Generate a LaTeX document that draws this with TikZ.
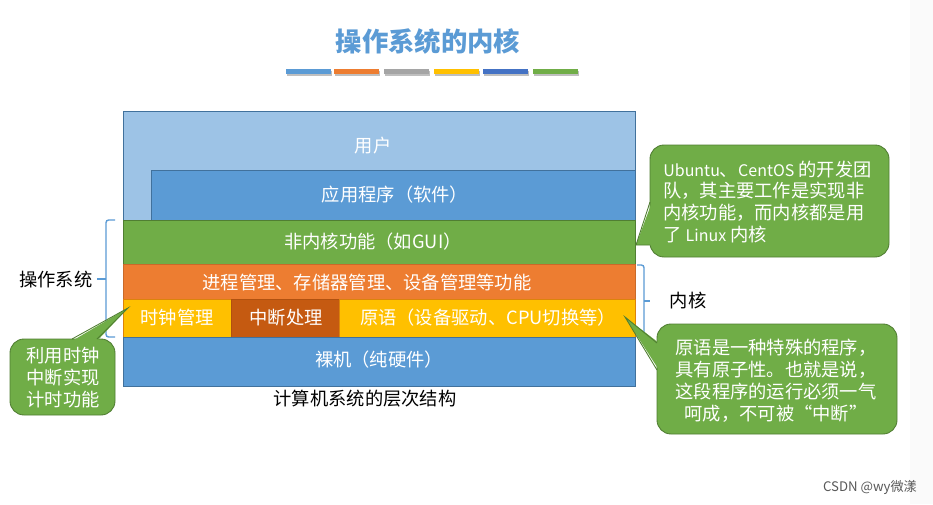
\documentclass[tikz,border=0pt]{standalone}
\usepackage{fontspec}
\setmainfont{Noto Sans CJK SC}
\definecolor{kblue}{HTML}{5B9BD5}
\definecolor{klight}{HTML}{9DC3E6}
\definecolor{kgreen}{HTML}{70AD47}
\definecolor{korange}{HTML}{ED7D31}
\definecolor{kyellow}{HTML}{FFC000}
\definecolor{kbrown}{HTML}{C55A11}
\definecolor{kgray}{HTML}{A5A5A5}
\definecolor{kindigo}{HTML}{4472C4}
\definecolor{kedge}{HTML}{41719C}
\definecolor{kgreenedge}{HTML}{507E32}
\newcommand{\latinpart}[1]{{\fontsize{9.1pt}{12.5pt}\selectfont #1}}
\tikzset{
  bodytext/.style={font=\fontsize{10.4pt}{12.5pt}\selectfont, inner sep=0pt},
  layerlabel/.style={bodytext, text=white},
  blacklabel/.style={bodytext, text=black},
  calloutbox/.style={draw=kgreenedge, fill=kgreen, line width=0.5pt, rounded corners=0.28cm},
  callouttail/.style={draw=kgreenedge, line width=0.5pt},
  callouttext/.style={bodytext, text=white},
  bracket/.style={draw=kblue, line width=0.8pt, rounded corners=1.5pt},
}
\begin{document}
\begin{tikzpicture}[x=0.02cm, y=-0.02cm]
  \useasboundingbox (0,0) rectangle (933,504);
  \fill[white] (0,0) rectangle (933,504);
  \fill[black!2] (910,0) rectangle (933,504);

  % Title and colour bars
  \node[font=\fontsize{15pt}{18pt}\selectfont\bfseries, text=kblue, inner sep=0pt] (title) at (428,41) {操作系统的内核};
  \foreach \xa/\col in {286/kblue,334/korange,384/kgray,434/kyellow,483/kindigo,533/kgreen}{
    \fill[black!25] (\xa+0.5,70.5) rectangle (\xa+45.5,75.5);
    \fill[\col] (\xa,69) rectangle (\xa+45,74);
  }

  % Layers
  \foreach \xa/\ya/\xb/\yb/\col/\edge in {
    123/111/635/220/klight/kedge,
    151/170/635/220/kblue/kedge,
    123/220/635/264/kgreen/kgreenedge,
    123/264/635/299/korange/korange!85!black,
    123/299/231/337/kyellow/kbrown!60!kyellow,
    231/299/339/337/kbrown/kbrown!90!black,
    339/299/635/337/kyellow/kbrown!60!kyellow,
    123/337/635/386/kblue/kedge}{
    \draw[draw=\edge, fill=\col, line width=0.4pt] (\xa,\ya) rectangle (\xb,\yb);
  }

  % Layer labels
  \node[layerlabel] (user) at (373,146) {用户};
  \node[layerlabel] (app) at (395,195) {应用程序（软件）};
  \node[layerlabel] (nonkernel) at (373,242) {非内核功能（如GUI）};
  \node[layerlabel] (manage) at (367,283) {进程管理、存储器管理、设备管理等功能};
  \node[layerlabel] (clock) at (177,318) {时钟管理};
  \node[layerlabel] (interrupt) at (286,318) {中断处理};
  \node[layerlabel] (atomic) at (488,318) {原语（设备驱动、CPU切换等）};
  \node[layerlabel] (bare) at (379,360) {裸机（纯硬件）};

  % Braces
  \draw[bracket] (115,220) -- (106,220) -- (106,337) -- (115,337);
  \draw[bracket] (97,279) -- (106,279);
  \draw[bracket] (637,265) -- (644,265) -- (644,337) -- (637,337);
  \draw[bracket] (644,301) -- (650,301);

  % Outside labels
  \node[blacklabel] (os) at (56,280) {操作系统};
  \node[blacklabel] (kernel) at (688,301) {内核};
  \node[blacklabel] (caption) at (365,399) {计算机系统的层次结构};

  % Callouts
  \draw[calloutbox] (650,145) rectangle (889,257);
  \fill[kgreen] (652,202) -- (636,245) -- (652,245) -- cycle;
  \draw[callouttail] (650,202) -- (636,245) -- (650,245);
  \draw[calloutbox] (657,324) rectangle (897,434);
  \fill[kgreen] (659,343) -- (625,317) -- (659,370) -- cycle;
  \draw[callouttail] (657,343) -- (625,317) -- (657,370);
  \draw[calloutbox] (10,339) rectangle (115,415);
  \fill[kgreen] (72,341) -- (128,308) -- (97,341) -- cycle;
  \draw[callouttail] (72,339) -- (128,308) -- (97,339);

  \node[callouttext, align=left, anchor=west] (ubuntu) at (663,202)
    {\latinpart{Ubuntu}、\latinpart{CentOS} 的开发团\\队，其主要工作是实现非\\内核功能，而内核都是用\\了 \latinpart{Linux} 内核};
  \node[callouttext, align=center] (primitive) at (776,381)
    {原语是一种特殊的程序，\\具有原子性。也就是说，\\这段程序的运行必须一气\\呵成，不可被“中断”};
  \node[callouttext, align=center] (timer) at (63,378)
    {利用时钟\\中断实现\\计时功能};

  % Source mark
  \node[font=\fontsize{7.5pt}{9pt}\selectfont, text=black!65, inner sep=0pt] (mark) at (870,487) {CSDN @wy微漾};
\end{tikzpicture}
\end{document}
